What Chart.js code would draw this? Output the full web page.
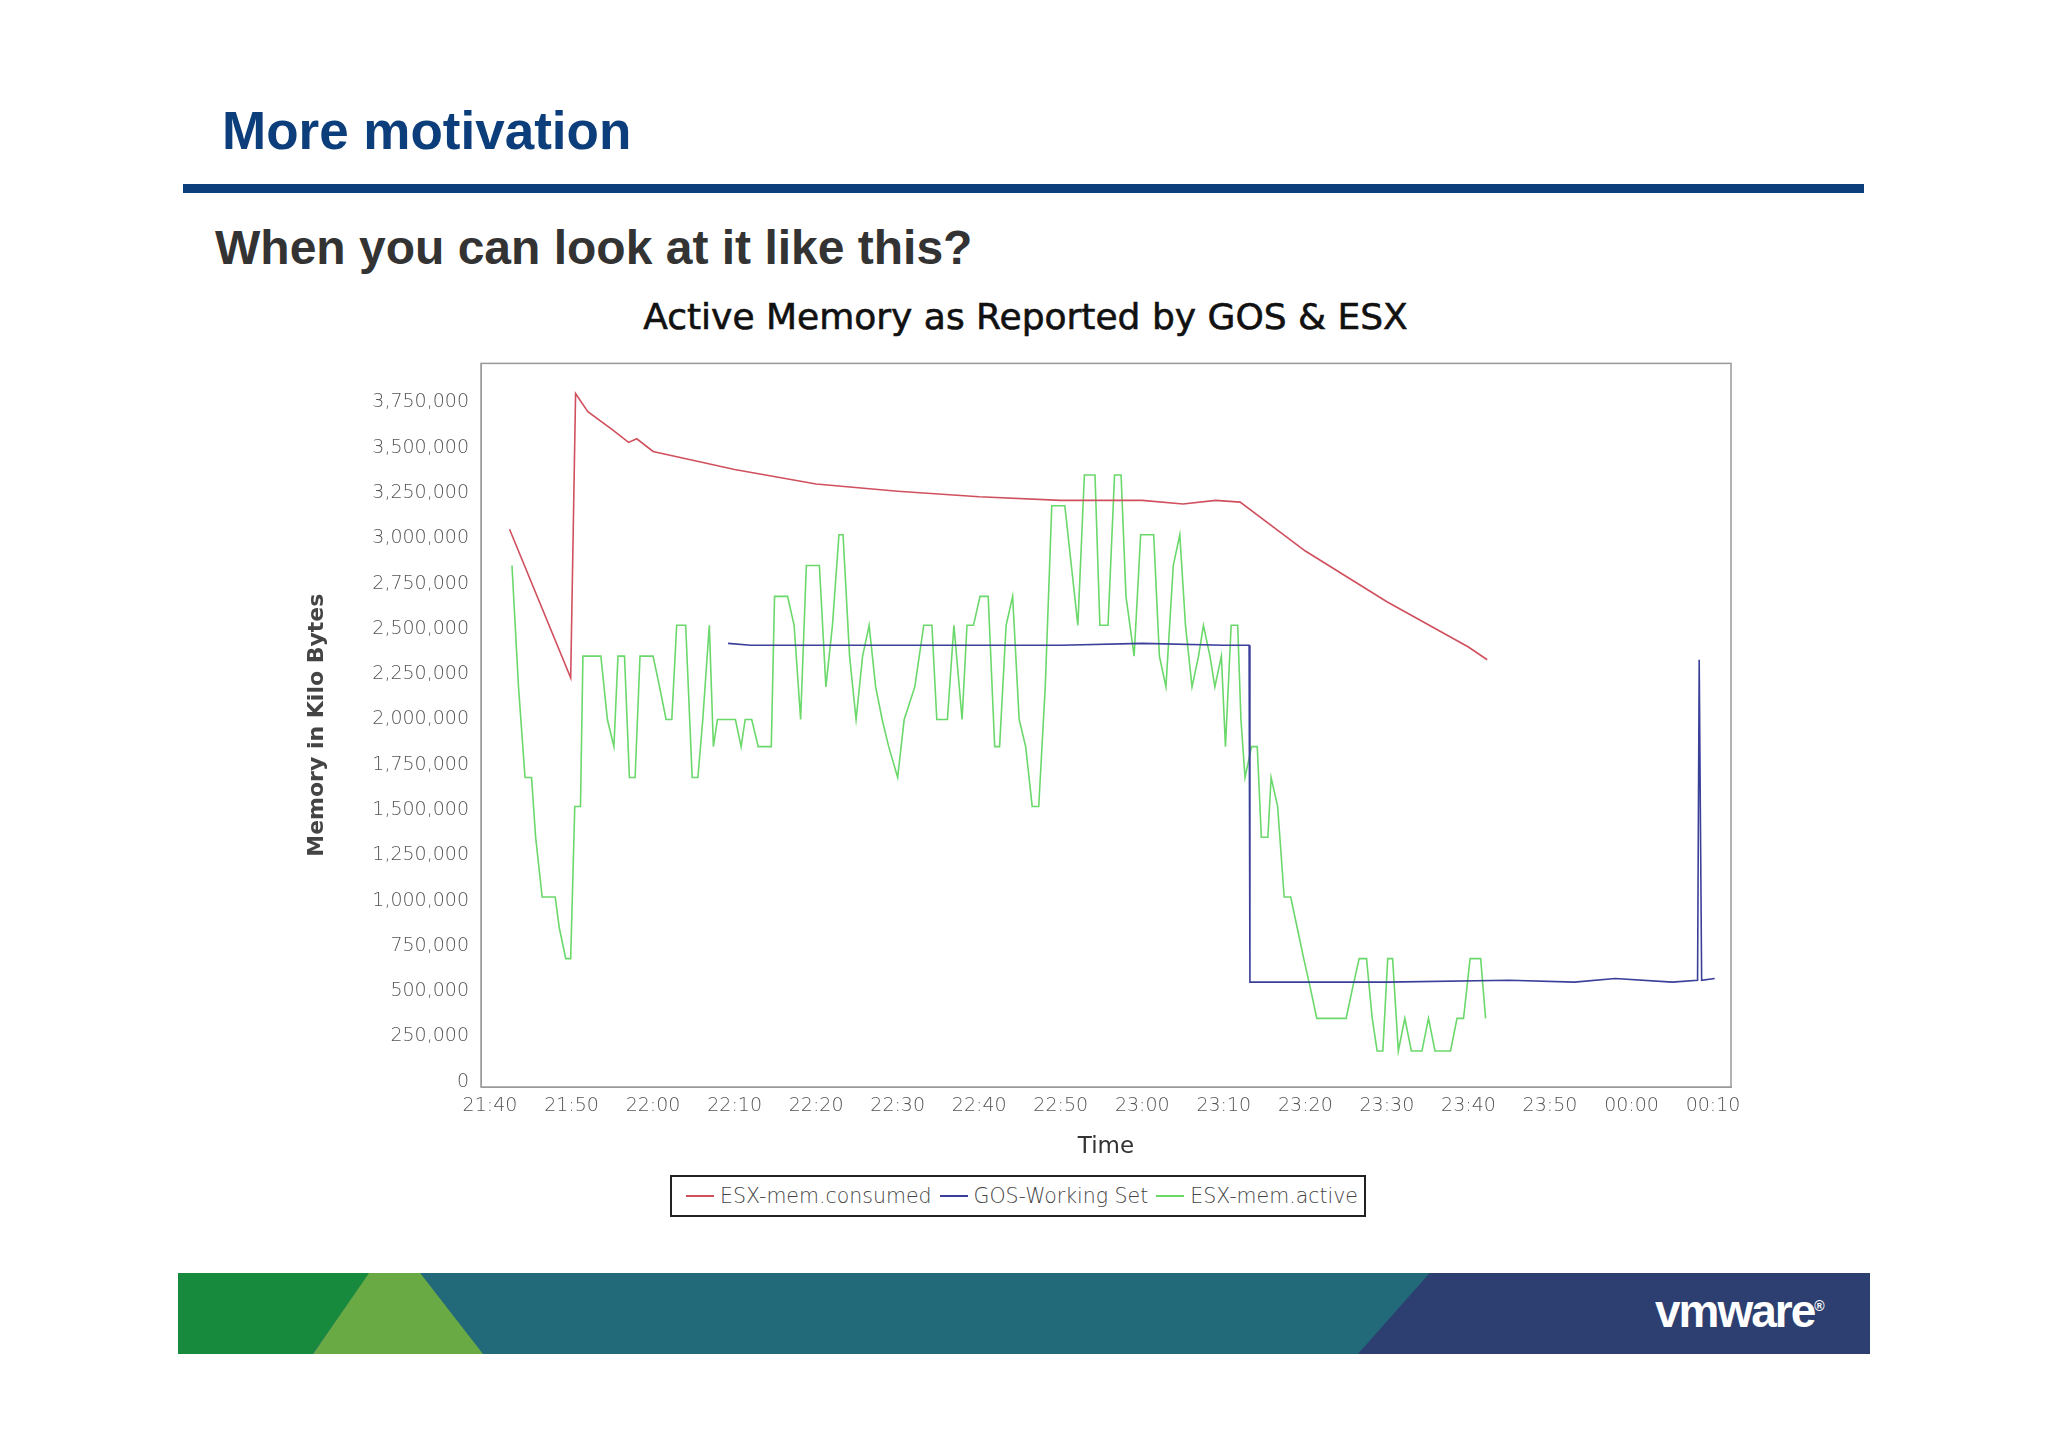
<!DOCTYPE html>
<html>
<head>
<meta charset="utf-8">
<script src="https://cdn.jsdelivr.net/npm/chart.js@4"></script>
<style>
  body { margin: 0; width: 2048px; height: 1447px; background: #fff; position: relative; overflow: hidden; font-family: "Liberation Sans", Arial, sans-serif; }
  .abs { position: absolute; }
  #head { left: 222px; top: 100px; font-size: 53px; font-weight: bold; color: #0b3e7a; }
  #rule { left: 183px; top: 184px; width: 1681px; height: 9px; background: #0b3e7a; }
  #sub { left: 215px; top: 220px; font-size: 48px; font-weight: bold; color: #333; }
  #ctitle { left: 300px; width: 1451px; top: 296px; text-align: center; font-family: "DejaVu Sans"; font-size: 36px; color: #111; -webkit-text-stroke: 0.6px #111; }
  #wrap { left: 300px; top: 346px; width: 1451px; height: 819px; }
  #legend { left: 670px; top: 1175px; height: 38px; border: 2px solid #222; padding: 0 6px; font-family: "DejaVu Sans"; font-size: 20.5px; font-weight: 300; color: #444; display: flex; align-items: center; white-space: nowrap; }
  #legend span.l { display: inline-block; width: 28px; height: 2px; margin: 0 6px 0 8px; vertical-align: middle; }
  .band { position: absolute; top: 1273px; height: 81px; }
  #logo { left: 1655px; top: 1284px; font-size: 46px; font-weight: bold; color: #fff; letter-spacing: -2px; }
</style>
</head>
<body>
<div id="head" class="abs">More motivation</div>
<div id="rule" class="abs"></div>
<div id="sub" class="abs">When you can look at it like this?</div>
<div id="ctitle" class="abs">Active Memory as Reported by GOS &amp; ESX</div>
<div id="wrap" class="abs"><canvas id="chart"></canvas></div>
<div id="legend" class="abs">
  <span class="l" style="background:#d0505e"></span>ESX-mem.consumed
  <span class="l" style="background:#3a3f9a"></span>GOS-Working Set
  <span class="l" style="background:#6ad86a"></span>ESX-mem.active
</div>

<div class="band" style="left:178px;width:1692px;background:#22697a"></div>
<div class="band" style="left:178px;width:192px;background:#178a3e;clip-path:polygon(0 0,100% 0,70% 100%,0 100%)"></div>
<div class="band" style="left:313px;width:170px;background:#6aaa45;clip-path:polygon(33% 0,63% 0,100% 100%,0 100%)"></div>
<div class="band" style="left:1358px;width:512px;background:#2d3f70;clip-path:polygon(14% 0,100% 0,100% 100%,0 100%)"></div>
<div id="logo" class="abs">vmware<sup style="font-size:14px">®</sup></div>

<script>
// minutes after 21:40
let tickMinutes = [0, 10, 20, 30, 40, 50, 60, 70, 80, 90, 100, 110, 120, 130, 140, 150];
let tickLabels = ["21:40", "21:50", "22:00", "22:10", "22:20", "22:30", "22:40", "22:50", "23:00", "23:10", "23:20", "23:30", "23:40", "23:50", "00:00", "00:10"];

let consumedT = [2.4, 9.9, 10.5, 12, 15, 17, 18, 20, 25, 30, 40, 50, 60, 70, 80, 85, 89, 92, 100, 110, 120, 122.3];
let consumedV = [3050000, 2230000, 3800000, 3700000, 3600000, 3530000, 3550000, 3480000, 3430000, 3380000, 3300000, 3260000, 3230000, 3210000, 3210000, 3190000, 3210000, 3200000, 2930000, 2650000, 2400000, 2330000];

let gosT = [29.2, 32, 40, 50, 60, 70, 80, 90, 93.1, 93.2, 100, 110, 125, 133, 138, 145, 148.1, 148.3, 148.6, 150.2];
let gosV = [2420000, 2410000, 2410000, 2410000, 2410000, 2410000, 2420000, 2410000, 2410000, 550000, 550000, 550000, 560000, 550000, 570000, 550000, 560000, 2330000, 560000, 570000];

let activeT = [2.7, 3.5, 4.3, 5.1, 5.6, 6.4, 8.0, 8.5, 9.3, 9.9, 10.4, 11.1, 11.4, 13.6, 14.4, 15.2, 15.7, 16.5, 17.1, 17.8, 18.4, 20.0, 20.8, 21.6, 22.3, 22.9, 24.0, 24.8, 25.5, 26.1, 26.9, 27.4, 27.9, 30.1, 30.8, 31.3, 32.1, 32.9, 34.5, 34.9, 36.5, 37.3, 38.1, 38.8, 40.4, 41.2, 42.0, 42.8, 43.3, 44.1, 44.9, 45.7, 46.5, 47.3, 48.1, 48.9, 50.0, 50.8, 52.1, 53.2, 54.2, 54.8, 56.1, 56.9, 57.9, 58.5, 59.3, 60.1, 61.1, 61.9, 62.5, 63.3, 64.1, 64.9, 65.7, 66.5, 67.3, 68.1, 68.9, 70.5, 71.3, 72.1, 72.9, 74.2, 74.8, 75.8, 76.6, 77.4, 78.0, 79.0, 79.8, 81.4, 82.1, 82.9, 83.8, 84.6, 85.3, 86.1, 86.9, 87.5, 88.3, 88.9, 89.7, 90.2, 90.9, 91.7, 92.1, 92.6, 93.4, 94.1, 94.6, 95.4, 95.8, 96.6, 97.4, 98.2, 99.0, 99.8, 100.6, 101.4, 105.0, 105.8, 106.6, 107.5, 108.2, 108.8, 109.5, 110.1, 110.7, 111.4, 112.2, 113.0, 114.3, 115.1, 115.9, 117.8, 118.6, 119.4, 120.2, 121.5, 122.1];
let activeV = [2850000, 2180000, 1680000, 1680000, 1350000, 1020000, 1020000, 850000, 680000, 680000, 1520000, 1520000, 2350000, 2350000, 2000000, 1850000, 2350000, 2350000, 1680000, 1680000, 2350000, 2350000, 2180000, 2000000, 2000000, 2520000, 2520000, 1680000, 1680000, 2000000, 2520000, 1850000, 2000000, 2000000, 1850000, 2000000, 2000000, 1850000, 1850000, 2680000, 2680000, 2520000, 2000000, 2850000, 2850000, 2180000, 2520000, 3020000, 3020000, 2350000, 2000000, 2350000, 2520000, 2180000, 2000000, 1850000, 1680000, 2000000, 2180000, 2520000, 2520000, 2000000, 2000000, 2520000, 2000000, 2520000, 2520000, 2680000, 2680000, 1850000, 1850000, 2520000, 2680000, 2000000, 1850000, 1520000, 1520000, 2180000, 3180000, 3180000, 2850000, 2520000, 3350000, 3350000, 2520000, 2520000, 3350000, 3350000, 2680000, 2350000, 3020000, 3020000, 2350000, 2180000, 2850000, 3020000, 2520000, 2180000, 2350000, 2520000, 2350000, 2180000, 2350000, 1850000, 2520000, 2520000, 2000000, 1680000, 1850000, 1850000, 1350000, 1350000, 1680000, 1520000, 1020000, 1020000, 850000, 680000, 520000, 350000, 350000, 520000, 680000, 680000, 350000, 170000, 170000, 680000, 680000, 170000, 350000, 170000, 170000, 350000, 170000, 170000, 350000, 350000, 680000, 680000, 350000];

function pts(t, v) {
    return t.map((x, i) => ({ x: x, y: v[i] }));
}

function series(label, t, v, color) {
    return { label: label, data: pts(t, v), borderColor: color, borderWidth: 1.6, pointRadius: 0, tension: 0 };
}

let tickFont = { family: "DejaVu Sans", size: 19, weight: "300" };

new Chart(document.getElementById("chart"), {
    type: "line",
    data: {
        datasets: [
            series("ESX-mem.consumed", consumedT, consumedV, "#d0505e"),
            series("GOS-Working Set", gosT, gosV, "#3a3f9a"),
            series("ESX-mem.active", activeT, activeV, "#6ad86a")
        ]
    },
    options: {
        animation: false,
        responsive: true,
        maintainAspectRatio: false,
        layout: { padding: { top: 4, right: 20 } },
        plugins: { legend: { display: false }, tooltip: { enabled: false } },
        scales: {
            x: {
                type: "linear", min: -1.1, max: 152.2,
                grid: { display: false, drawTicks: true, tickLength: 6, color: "#888" },
                border: { color: "#999" },
                afterBuildTicks: s => { s.ticks = tickMinutes.map(v => ({ value: v })); },
                afterFit: s => { s.height = 78; },
                ticks: { autoSkip: false, maxRotation: 0, color: "#555", font: tickFont, padding: 2,
                         callback: v => tickLabels[tickMinutes.indexOf(v)] },
                title: { display: true, text: "Time", color: "#333", font: { family: "DejaVu Sans", size: 23, weight: "500" }, padding: { top: 4 } }
            },
            y: {
                min: -29000, max: 3966000,
                grid: { display: false, drawTicks: true, tickLength: 6 },
                border: { color: "#999" },
                afterBuildTicks: s => {
                    let t = [];
                    for (let v = 0; v <= 3750000; v += 250000) t.push({ value: v });
                    s.ticks = t;
                },
                afterFit: s => { s.width = 181; },
                ticks: { autoSkip: false, color: "#555", font: tickFont, padding: 6,
                         callback: v => v.toLocaleString("en-US") },
                title: { display: true, text: "Memory in Kilo Bytes", color: "#444", font: { family: "DejaVu Sans", size: 22, weight: "bold" } }
            }
        }
    },
    plugins: [{
        id: "frame",
        afterDraw: c => {
            let a = c.chartArea, g = c.ctx;
            g.save();
            g.strokeStyle = "#999";
            g.lineWidth = 1.5;
            g.strokeRect(a.left, a.top, a.right - a.left, a.bottom - a.top);
            g.restore();
        }
    }]
});
</script>
</body>
</html>
